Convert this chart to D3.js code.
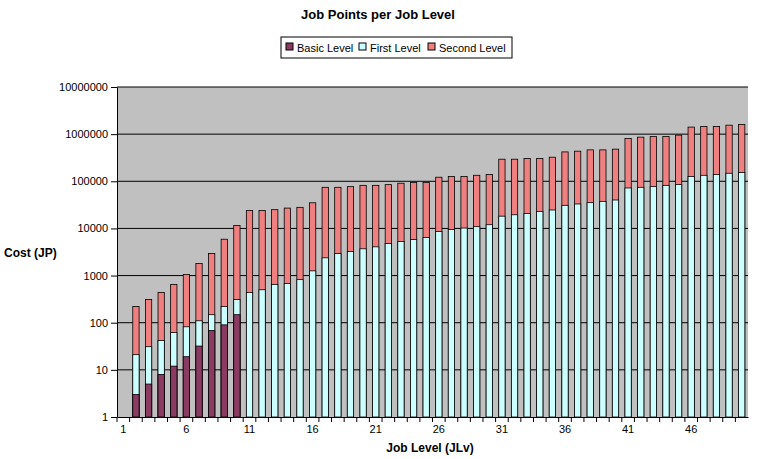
<!DOCTYPE html>
<html>
<head>
<meta charset="utf-8">
<script src="https://cdn.jsdelivr.net/npm/d3@7"></script>
<style>
  body { margin: 0; background: #fff; }
  text { font-family: Arial, "Liberation Sans", sans-serif; }
</style>
</head>
<body>
<svg width="757" height="459"></svg>
<script>
// job levels 1..50
var levels = d3.range(1, 51);
var seriesNames = ["Basic Level", "First Level", "Second Level"];

var basicLevel = [1, 3, 5, 8, 12, 19, 32, 68, 90, 148];

var firstLevel = [1, 21, 31, 42, 62, 82, 110, 148, 220, 310,
    440, 500, 650, 680, 820, 1260, 2380, 2940, 3240, 3700,
    4070, 4800, 5290, 5830, 6440, 8630, 9520, 10200, 10900, 12000,
    18200, 19500, 20800, 23000, 24600, 30900, 33000, 35200, 37500, 40100,
    72100, 74500, 77000, 82000, 85000, 126000, 134000, 139000, 148000, 153000];

var secondLevel = [1, 220, 310, 440, 650, 1050, 1800, 2950, 5900, 11500,
    24000, 24000, 25000, 27000, 28000, 35000, 74500, 74500, 77000, 82000,
    82000, 85000, 91000, 94000, 94000, 122000, 126000, 126000, 134000, 139000,
    294000, 294000, 304000, 304000, 324000, 420000, 435000, 464000, 464000, 480000,
    809000, 863000, 892000, 892000, 952000, 1410000, 1455000, 1455000, 1550000, 1600000];

var yTicks = [1, 10, 100, 1000, 10000, 100000, 1000000, 10000000];
var colors = ["#8b3a62", "#ccffff", "#f08080"];

var svg = d3.select("svg");
var margin = {top: 87, right: 9, bottom: 42, left: 117};
var width = 757 - margin.left - margin.right;
var height = 459 - margin.top - margin.bottom;

var x = d3.scaleBand().domain(levels).range([0, width]).paddingInner(0.5).paddingOuter(0.25);
var y = d3.scaleLog().domain([1, 10000000]).range([height, 0]);

var g = svg.append("g").attr("transform", "translate(" + margin.left + "," + margin.top + ")");

g.append("rect").attr("width", width).attr("height", height).attr("fill", "#c0c0c0");

g.selectAll(".grid").data(yTicks.slice(1)).enter().append("line")
    .attr("x1", 0).attr("x2", width)
    .attr("y1", function(d) { return y(d); }).attr("y2", function(d) { return y(d); })
    .attr("stroke", "#000");

// back to front: second, first, basic
var series = [secondLevel, firstLevel, basicLevel];
var seriesColors = [colors[2], colors[1], colors[0]];
series.forEach(function(vals, si) {
    g.selectAll(".s" + si).data(vals).enter().append("rect")
        .attr("x", function(d, i) { return x(levels[i]); })
        .attr("width", x.bandwidth())
        .attr("y", function(d) { return y(d); })
        .attr("height", function(d) { return height - y(d); })
        .attr("fill", seriesColors[si])
        .attr("stroke", "#000")
        .attr("stroke-width", 0.8);
});

var xAxis = g.append("g").attr("transform", "translate(0," + height + ")")
    .call(d3.axisBottom(x).tickSize(0).tickFormat(function(d) { return (d - 1) % 5 === 0 ? d : ""; }));
xAxis.select(".domain").attr("stroke", "#000");
xAxis.selectAll("text").attr("font-size", 11).attr("fill", "#000").attr("dy", "1.2em");
// tick marks between categories
g.selectAll(".xt").data(levels).enter().append("line")
    .attr("x1", function(d) { return x(d) - x.step() * x.paddingInner() / 2; })
    .attr("x2", function(d) { return x(d) - x.step() * x.paddingInner() / 2; })
    .attr("y1", height).attr("y2", height + 5).attr("stroke", "#000");

var yAxis = g.append("g")
    .call(d3.axisLeft(y).tickValues(yTicks).tickFormat(d3.format("d")).tickSizeOuter(0));
yAxis.selectAll("text").attr("font-size", 11).attr("fill", "#000");

svg.append("text").attr("x", 378).attr("y", 19).attr("text-anchor", "middle")
    .attr("font-size", 13).attr("font-weight", "bold").text("Job Points per Job Level");
svg.append("text").attr("x", 430).attr("y", 452).attr("text-anchor", "middle")
    .attr("font-size", 12).attr("font-weight", "bold").text("Job Level (JLv)");
svg.append("text").attr("x", 4).attr("y", 257)
    .attr("font-size", 12).attr("font-weight", "bold").text("Cost (JP)");

// legend
var lg = svg.append("g").attr("transform", "translate(281,37)");
lg.append("rect").attr("width", 231).attr("height", 21).attr("fill", "#fff").attr("stroke", "#000");
var lx = [5, 78, 147];
seriesNames.forEach(function(n, i) {
    lg.append("rect").attr("x", lx[i]).attr("y", 6).attr("width", 7).attr("height", 7)
        .attr("fill", colors[i]).attr("stroke", "#000");
    lg.append("text").attr("x", lx[i] + 11).attr("y", 15).attr("font-size", 11).text(n);
});
</script>
</body>
</html>
